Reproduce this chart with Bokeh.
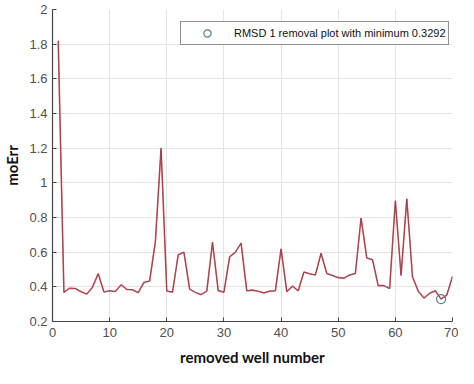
from bokeh.plotting import figure
from bokeh.models import Legend, LegendItem, Range1d, FixedTicker
from bokeh.embed import file_html
from bokeh.resources import INLINE

well = [1, 2, 3, 4, 5, 6, 7, 8, 9, 10,
        11, 12, 13, 14, 15, 16, 17, 18, 19, 20,
        21, 22, 23, 24, 25, 26, 27, 28, 29, 30,
        31, 32, 33, 34, 35, 36, 37, 38, 39, 40,
        41, 42, 43, 44, 45, 46, 47, 48, 49, 50,
        51, 52, 53, 54, 55, 56, 57, 58, 59, 60,
        61, 62, 63, 64, 65, 66, 67, 68, 69, 70]
mo_err = [1.82, 0.368, 0.392, 0.390, 0.372, 0.358, 0.398, 0.476, 0.370, 0.377,
          0.373, 0.412, 0.385, 0.383, 0.366, 0.425, 0.434, 0.660, 1.200, 0.376,
          0.369, 0.585, 0.600, 0.387, 0.368, 0.355, 0.375, 0.657, 0.378, 0.369,
          0.573, 0.600, 0.652, 0.377, 0.381, 0.374, 0.365, 0.375, 0.377, 0.619,
          0.372, 0.404, 0.377, 0.485, 0.475, 0.468, 0.594, 0.477, 0.466, 0.453,
          0.450, 0.468, 0.477, 0.797, 0.566, 0.556, 0.407, 0.407, 0.390, 0.897,
          0.466, 0.908, 0.458, 0.375, 0.335, 0.363, 0.377, 0.3292, 0.353, 0.460]
min_well = [68]
min_err = [0.3292]
legend_label = "RMSD 1 removal plot with minimum 0.3292"
x_ticks = [0, 10, 20, 30, 40, 50, 60, 70]
y_ticks = [0.2, 0.4, 0.6, 0.8, 1.0, 1.2, 1.4, 1.6, 1.8, 2.0]

p = figure(width=458, height=368, output_backend="svg", toolbar_location=None,
           x_range=Range1d(0, 70), y_range=Range1d(0.2, 2.0),
           min_border_left=47, min_border_right=6, min_border_top=9, min_border_bottom=43)
p.outline_line_color = None
p.background_fill_color = "white"

p.line(well, mo_err, line_color="#d8606a", line_width=1.6)
p.line(well, mo_err, line_color="#6a3036", line_width=0.7, line_alpha=0.8)
r_min = p.scatter(min_well, min_err, marker="circle", size=9, fill_color=None,
                  line_color="#4f7f92", line_width=1.2)

for ax in (p.xaxis[0], p.yaxis[0]):
    ax.axis_line_color = "#444444"
    ax.axis_line_width = 1.2
    ax.major_tick_in = 4
    ax.major_tick_out = 0
    ax.major_tick_line_color = "#444444"
    ax.minor_tick_line_color = None
    ax.major_label_text_font = "Liberation Sans"
    ax.major_label_text_font_size = "13px"
    ax.major_label_text_color = "#505050"
    ax.axis_label_text_font = "Lato"
    ax.axis_label_text_font_style = "bold"
    ax.axis_label_text_font_size = "15px"
    ax.axis_label_text_color = "#111111"

p.xaxis[0].ticker = FixedTicker(ticks=x_ticks)
p.yaxis[0].ticker = FixedTicker(ticks=y_ticks)
p.yaxis[0].major_label_overrides = {0.2: "0.2", 0.4: "0.4", 0.6: "0.6", 0.8: "0.8", 1.0: "1",
                                    1.2: "1.2", 1.4: "1.4", 1.6: "1.6", 1.8: "1.8", 2.0: "2"}
p.xaxis[0].axis_label = "removed well number"
p.yaxis[0].axis_label = "moErr"
p.xaxis[0].major_label_standoff = 6
p.xaxis[0].axis_label_standoff = 8
p.yaxis[0].major_label_standoff = 5
p.yaxis[0].axis_label_standoff = 5

p.xgrid.grid_line_color = "#e4e4e4"
p.ygrid.grid_line_color = "#e4e4e4"
p.xgrid.grid_line_width = 1
p.ygrid.grid_line_width = 1

legend = Legend(items=[LegendItem(label=legend_label, renderers=[r_min])],
                location=(128, 276))
legend.margin = 0
legend.padding = 2
legend.spacing = 0
legend.glyph_width = 48
legend.glyph_height = 18
legend.label_height = 18
legend.label_standoff = 3
legend.label_text_font = "Liberation Sans"
legend.label_text_font_size = "11px"
legend.label_text_color = "#111111"
legend.border_line_color = "#222222"
legend.border_line_width = 1
legend.background_fill_color = "white"
legend.background_fill_alpha = 1.0
p.add_layout(legend)

open("out.html", "w").write(file_html(p, INLINE))
